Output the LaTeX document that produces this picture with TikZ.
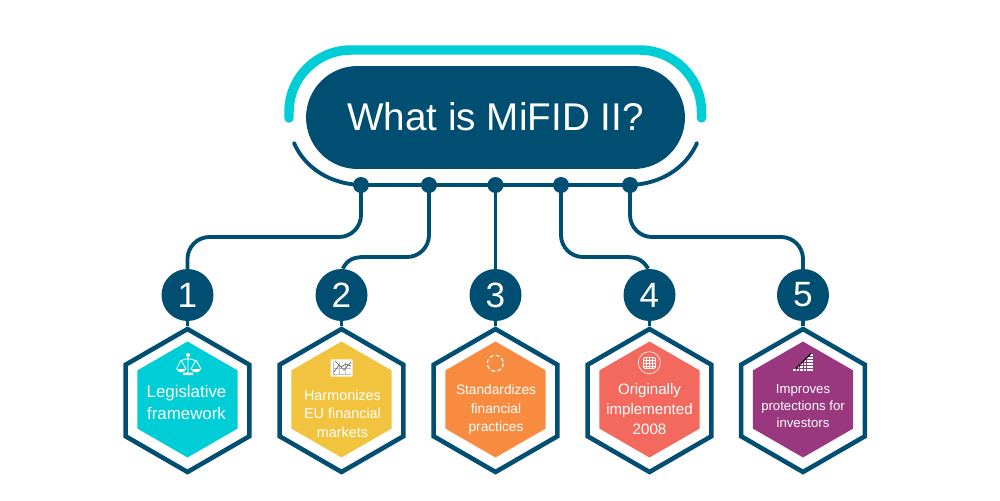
\documentclass[tikz,border=0pt]{standalone}
\usepackage{fontspec}
\setmainfont{Liberation Sans}
\usetikzlibrary{shapes.geometric}
\usetikzlibrary{shapes.misc}
\definecolor{navy}{HTML}{004F73}
\definecolor{tealc}{HTML}{00CED6}
\definecolor{yellowc}{HTML}{F1C33F}
\definecolor{orangec}{HTML}{F98B40}
\definecolor{salmonc}{HTML}{F4695E}
\definecolor{purplec}{HTML}{99377F}
\tikzset{
    link/.style={draw=navy,line width=2.2pt,line cap=round},
    junction/.style={circle,fill=navy,minimum size=0.32cm,inner sep=0pt},
    numdisc/.style={circle,fill=navy,text=white,minimum size=1.04cm,inner sep=0pt,font=\fontsize{20}{20}\selectfont},
    hexframe/.style={regular polygon,regular polygon sides=6,shape border rotate=30,draw=navy,line width=2.6pt,minimum size=2.86cm,inner sep=0pt},
    hexfill/.style={regular polygon,regular polygon sides=6,shape border rotate=30,minimum size=2.32cm,inner sep=0pt},
    hexlabel/.style={text=white,align=center,inner sep=0pt},
    icon/.style={draw=white,line width=0.5pt}
}
\begin{document}
\begin{tikzpicture}[x=0.02cm,y=-0.02cm]
  \useasboundingbox (0,0) rectangle (1000,500);

  % title
  \node [rounded rectangle,fill=navy,text=white,minimum width=7.58cm,minimum height=2.06cm,inner sep=0pt] (title) at (495.5,117.5) {};
  \node [text=white,inner sep=0pt,font=\fontsize{22}{22}\selectfont] (titletext) at (495.5,116.5) {What is MiFID II?};
  \draw [draw=tealc,line width=5.4pt,line cap=round,rounded corners=1.24cm] (289,118) -- (289,50) -- (701.5,50) -- (701.5,118);

  % junctions
  \node [junction] (dot1) at (361,185) {};
  \node [junction] (dot2) at (429,185) {};
  \node [junction] (dot3) at (495.5,185) {};
  \node [junction] (dot4) at (561,185) {};
  \node [junction] (dot5) at (630,185) {};
  \coordinate (endL) at (294,143);
  \coordinate (endR) at (697,143);
  \draw [link] (endL) .. controls (305,168) and (330,184) .. (dot1.center) -- (dot5.center) .. controls (661,184) and (686,168) .. (endR);

  % hexagons and numbers
  \foreach \name/\px/\col/\num in {1/187.5/tealc/1,2/341.5/yellowc/2,3/495.5/orangec/3,4/649.5/salmonc/4,5/803/purplec/5} {
    \node [hexframe] (frame\name) at (\px,400.5) {};
    \node [hexfill,fill=\col] (hex\name) at (\px,399.5) {};
    \node [numdisc] (num\name) at (\px,295) {\num};
    \draw [link,line cap=butt] (num\name) -- (frame\name);
  }

  % connectors
  \coordinate (turn1) at (187.5,237);
  \coordinate (turn2) at (365,257);
  \coordinate (turn4) at (625,257);
  \coordinate (turn5) at (803,237);
  \draw [link,rounded corners=0.44cm] (dot1.center) |- (turn1) -- (num1);
  \draw [link,line cap=butt,rounded corners=0.44cm] (dot2.center) |- (turn2);
  \draw [link,line cap=butt] (turn2) .. controls (353,257) and (347,260) .. (num2.87);
  \draw [link] (dot3.center) -- (num3);
  \draw [link,line cap=butt,rounded corners=0.44cm] (dot4.center) |- (turn4);
  \draw [link,line cap=butt] (turn4) .. controls (637,257) and (643,260) .. (num4.93);
  \draw [link,rounded corners=0.44cm] (dot5.center) |- (turn5) -- (num5);

  % labels
  \node [hexlabel,font=\fontsize{9.6}{13}\selectfont] (text1) at (186.5,402.5) {Legislative\\framework};
  \node [hexlabel,font=\fontsize{8.2}{10.5}\selectfont] (text2) at (342.5,413.5) {Harmonizes\\EU financial\\markets};
  \node [hexlabel,font=\fontsize{7.8}{10.5}\selectfont] (text3) at (496,409.5) {Standardizes\\financial\\practices};
  \node [hexlabel,font=\fontsize{8.6}{11.3}\selectfont] (text4) at (649.5,409) {Originally\\implemented\\2008};
  \node [hexlabel,font=\fontsize{7.5}{9.7}\selectfont] (text5) at (803,406) {Improves\\protections for\\investors};

  % icon 1
  \draw [icon] (188,355) -- (188,373) (181,361) .. controls (185,358) and (191,358) .. (196,361);
  \fill [white] (188,355) circle (2) (183,372.5) rectangle (193,375);
  \draw [icon] (181,360) -- (176.5,369) (181,360) -- (186,369) (196,360) -- (191,369) (196,360) -- (201,369);
  \fill [white] (176.5,369) .. controls (178,373.5) and (184.5,373.5) .. (186,369) -- cycle;
  \fill [white] (191,369) .. controls (192.5,373.5) and (199.5,373.5) .. (201,369) -- cycle;

  % icon 2
  \fill [white,rounded corners=0.02cm] (330.7,359.3) rectangle (352.7,376.7);
  \draw [gray!50,line width=0.3pt] (333,362) -- (333,374) -- (351,374) (333,368) -- (351,368) (339,362) -- (339,374) (345,362) -- (345,374);
  \draw [gray!80!black,line width=0.4pt] (334,372) -- (339,365) -- (344,370) -- (351,362);
  \draw [gray!80!black,line width=0.4pt] (335,361) -- (341,367) -- (346,364) -- (351,366);

  % icon 3
  \draw [draw=white,line width=0.7pt,dash pattern=on 2.2pt off 1.4pt] (495.3,363.3) circle (8);

  % icon 4
  \draw [draw=white,line width=0.35pt] (649.3,362.7) circle (11);
  \draw [draw=white,line width=0.5pt,rounded corners=0.03cm] (643.5,357.5) rectangle (655.5,368.5);
  \foreach \gx in {646.5,649.5,652.5} {\draw [draw=white,line width=0.4pt] (\gx,357.5) -- (\gx,368.5);}
  \foreach \gy in {360,363,366} {\draw [draw=white,line width=0.4pt] (643.5,\gy) -- (655.5,\gy);}

  % icon 5
  \foreach \col [count=\i] in {1,2,3,4,5,6} {
    \foreach \row in {1,...,\col} {
      \fill [white] (790+\i*3.4,371.5-\row*3) rectangle +(2.6,2);
    }
  }
  \draw [black,line width=0.7pt,dash pattern=on 1.6pt off 0.3pt] (796,368.5) -- (811,353.5);
\end{tikzpicture}
\end{document}
